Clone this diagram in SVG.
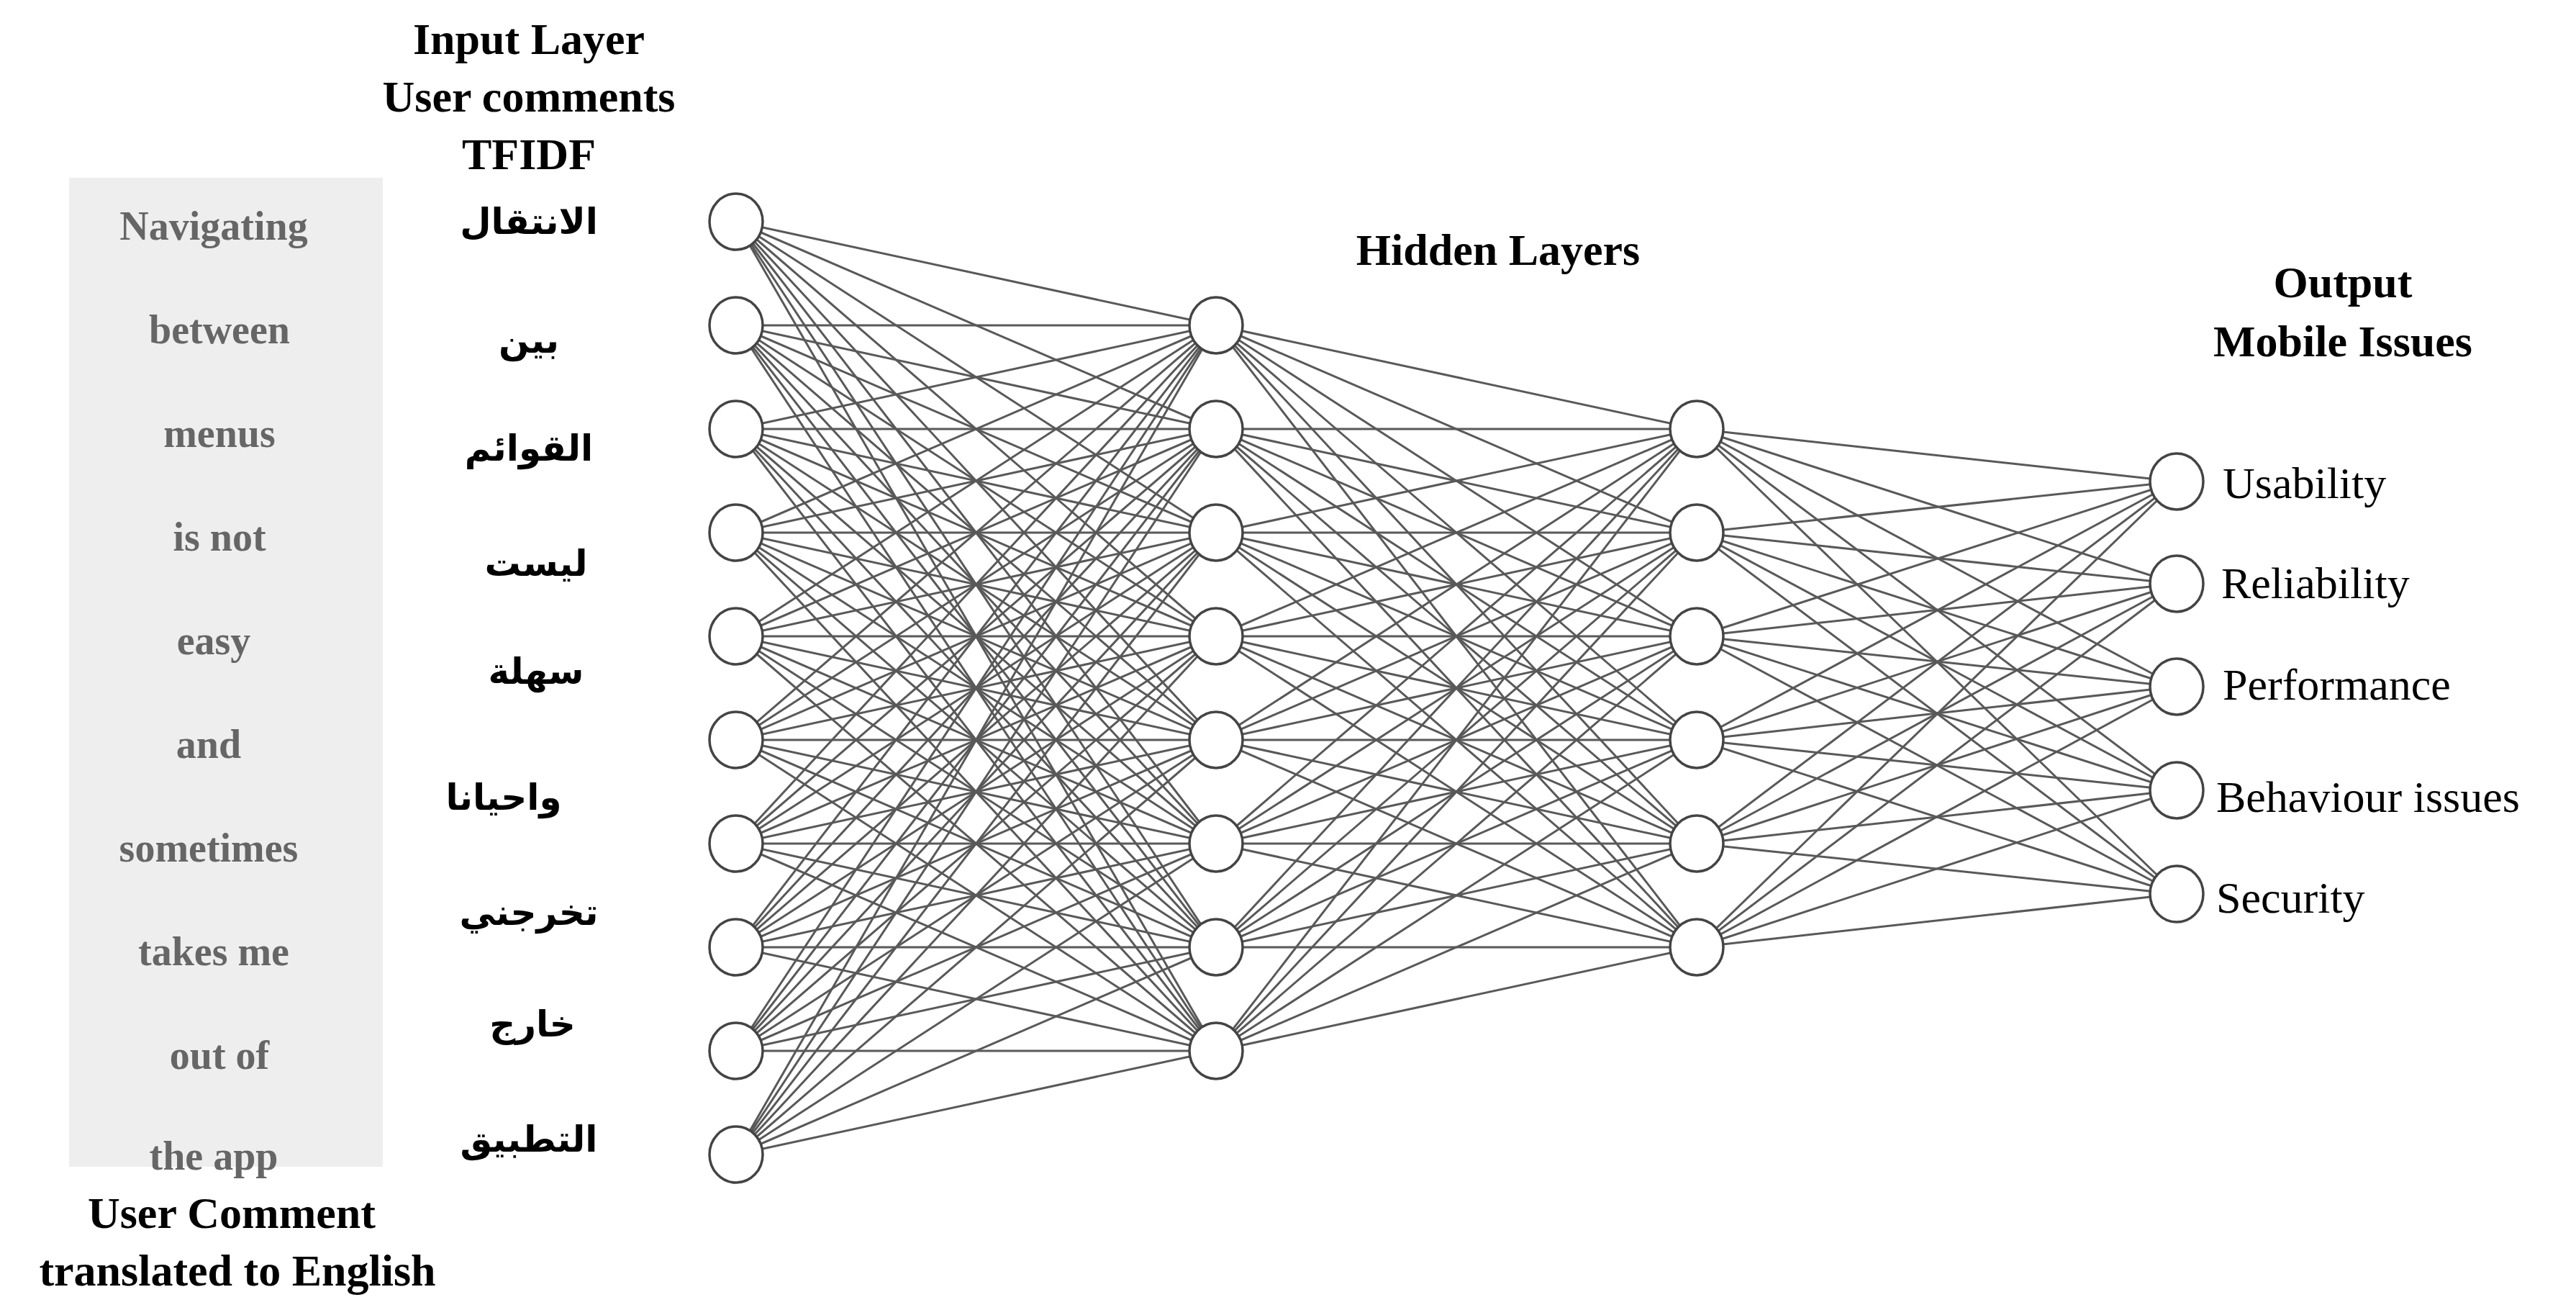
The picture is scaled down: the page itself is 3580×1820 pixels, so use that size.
<svg xmlns="http://www.w3.org/2000/svg" width="3580" height="1820" viewBox="0 0 3580 1820">
<style>
.t{font-family:"Liberation Serif","DejaVu Serif",serif;font-weight:bold;font-size:62px;fill:#000;text-anchor:middle}
.w{font-family:"Liberation Serif","DejaVu Serif",serif;font-weight:bold;font-size:56px;fill:#666;text-anchor:middle}
.a{font-family:"DejaVu Sans","Noto Sans",sans-serif;font-weight:bold;font-size:50px;fill:#000;text-anchor:middle}
.o{font-family:"Liberation Serif","DejaVu Serif",serif;font-size:62px;fill:#000}
.c polyline{fill:none;stroke:#595959;stroke-width:3;stroke-linejoin:round}
.n ellipse{fill:#fff;stroke:#444;stroke-width:3.5}
</style>
<rect x="96" y="247" width="436" height="1374" fill="#eeeeee"/>
<g id="comment">
<text class="w" x="297" y="333">Navigating</text>
<text class="w" x="305" y="477">between</text>
<text class="w" x="305" y="621">menus</text>
<text class="w" x="305" y="765">is not</text>
<text class="w" x="297" y="909">easy</text>
<text class="w" x="290" y="1053">and</text>
<text class="w" x="290" y="1197">sometimes</text>
<text class="w" x="297" y="1341">takes me</text>
<text class="w" x="305" y="1485">out of</text>
<text class="w" x="297" y="1625">the app</text>
<text class="t" x="322" y="1706">User Comment</text>
<text class="t" x="330" y="1786">translated to English</text>
</g>
<g id="titles">
<text class="t" x="735" y="75">Input Layer</text>
<text class="t" x="735" y="155">User comments</text>
<text class="t" x="735" y="235">TFIDF</text>
<text class="t" x="2082" y="368">Hidden Layers</text>
<text class="t" x="3256" y="413">Output</text>
<text class="t" x="3256" y="495">Mobile Issues</text>
</g>
<g id="arabic">
<text class="a" x="735" y="325">الانتقال</text>
<text class="a" x="735" y="490">بين</text>
<text class="a" x="735" y="640">القوائم</text>
<text class="a" x="745" y="800">ليست</text>
<text class="a" x="745" y="950">سهلة</text>
<text class="a" x="700" y="1125">واحيانا</text>
<text class="a" x="735" y="1285">تخرجني</text>
<text class="a" x="740" y="1440">خارج</text>
<text class="a" x="735" y="1600">التطبيق</text>
</g>
<g id="connectors" class="c">
<polyline points="1023,308 1690,452 1023,308 1690,596 1023,308 1690,740 1023,308 1690,884 1023,308 1690,1028 1023,308 1690,1172 1023,308 1690,1316 1023,308 1690,1460"/>
<polyline points="1023,452 1690,452 1023,452 1690,596 1023,452 1690,740 1023,452 1690,884 1023,452 1690,1028 1023,452 1690,1172 1023,452 1690,1316 1023,452 1690,1460"/>
<polyline points="1023,596 1690,452 1023,596 1690,596 1023,596 1690,740 1023,596 1690,884 1023,596 1690,1028 1023,596 1690,1172 1023,596 1690,1316 1023,596 1690,1460"/>
<polyline points="1023,740 1690,452 1023,740 1690,596 1023,740 1690,740 1023,740 1690,884 1023,740 1690,1028 1023,740 1690,1172 1023,740 1690,1316 1023,740 1690,1460"/>
<polyline points="1023,884 1690,452 1023,884 1690,596 1023,884 1690,740 1023,884 1690,884 1023,884 1690,1028 1023,884 1690,1172 1023,884 1690,1316 1023,884 1690,1460"/>
<polyline points="1023,1028 1690,452 1023,1028 1690,596 1023,1028 1690,740 1023,1028 1690,884 1023,1028 1690,1028 1023,1028 1690,1172 1023,1028 1690,1316 1023,1028 1690,1460"/>
<polyline points="1023,1172 1690,452 1023,1172 1690,596 1023,1172 1690,740 1023,1172 1690,884 1023,1172 1690,1028 1023,1172 1690,1172 1023,1172 1690,1316 1023,1172 1690,1460"/>
<polyline points="1023,1316 1690,452 1023,1316 1690,596 1023,1316 1690,740 1023,1316 1690,884 1023,1316 1690,1028 1023,1316 1690,1172 1023,1316 1690,1316 1023,1316 1690,1460"/>
<polyline points="1023,1460 1690,452 1023,1460 1690,596 1023,1460 1690,740 1023,1460 1690,884 1023,1460 1690,1028 1023,1460 1690,1172 1023,1460 1690,1316 1023,1460 1690,1460"/>
<polyline points="1023,1604 1690,452 1023,1604 1690,596 1023,1604 1690,740 1023,1604 1690,884 1023,1604 1690,1028 1023,1604 1690,1172 1023,1604 1690,1316 1023,1604 1690,1460"/>
<polyline points="1690,452 2358,596 1690,452 2358,740 1690,452 2358,884 1690,452 2358,1028 1690,452 2358,1172 1690,452 2358,1316"/>
<polyline points="1690,596 2358,596 1690,596 2358,740 1690,596 2358,884 1690,596 2358,1028 1690,596 2358,1172 1690,596 2358,1316"/>
<polyline points="1690,740 2358,596 1690,740 2358,740 1690,740 2358,884 1690,740 2358,1028 1690,740 2358,1172 1690,740 2358,1316"/>
<polyline points="1690,884 2358,596 1690,884 2358,740 1690,884 2358,884 1690,884 2358,1028 1690,884 2358,1172 1690,884 2358,1316"/>
<polyline points="1690,1028 2358,596 1690,1028 2358,740 1690,1028 2358,884 1690,1028 2358,1028 1690,1028 2358,1172 1690,1028 2358,1316"/>
<polyline points="1690,1172 2358,596 1690,1172 2358,740 1690,1172 2358,884 1690,1172 2358,1028 1690,1172 2358,1172 1690,1172 2358,1316"/>
<polyline points="1690,1316 2358,596 1690,1316 2358,740 1690,1316 2358,884 1690,1316 2358,1028 1690,1316 2358,1172 1690,1316 2358,1316"/>
<polyline points="1690,1460 2358,596 1690,1460 2358,740 1690,1460 2358,884 1690,1460 2358,1028 1690,1460 2358,1172 1690,1460 2358,1316"/>
<polyline points="2358,596 3025,669 2358,596 3025,811 2358,596 3025,954 2358,596 3025,1098 2358,596 3025,1242"/>
<polyline points="2358,740 3025,669 2358,740 3025,811 2358,740 3025,954 2358,740 3025,1098 2358,740 3025,1242"/>
<polyline points="2358,884 3025,669 2358,884 3025,811 2358,884 3025,954 2358,884 3025,1098 2358,884 3025,1242"/>
<polyline points="2358,1028 3025,669 2358,1028 3025,811 2358,1028 3025,954 2358,1028 3025,1098 2358,1028 3025,1242"/>
<polyline points="2358,1172 3025,669 2358,1172 3025,811 2358,1172 3025,954 2358,1172 3025,1098 2358,1172 3025,1242"/>
<polyline points="2358,1316 3025,669 2358,1316 3025,811 2358,1316 3025,954 2358,1316 3025,1098 2358,1316 3025,1242"/>
</g>
<g id="input-nodes" class="n">
<ellipse cx="1023" cy="308" rx="37" ry="39"/><ellipse cx="1023" cy="452" rx="37" ry="39"/><ellipse cx="1023" cy="596" rx="37" ry="39"/><ellipse cx="1023" cy="740" rx="37" ry="39"/><ellipse cx="1023" cy="884" rx="37" ry="39"/><ellipse cx="1023" cy="1028" rx="37" ry="39"/><ellipse cx="1023" cy="1172" rx="37" ry="39"/><ellipse cx="1023" cy="1316" rx="37" ry="39"/><ellipse cx="1023" cy="1460" rx="37" ry="39"/><ellipse cx="1023" cy="1604" rx="37" ry="39"/>
</g>
<g id="hidden1-nodes" class="n">
<ellipse cx="1690" cy="452" rx="37" ry="39"/><ellipse cx="1690" cy="596" rx="37" ry="39"/><ellipse cx="1690" cy="740" rx="37" ry="39"/><ellipse cx="1690" cy="884" rx="37" ry="39"/><ellipse cx="1690" cy="1028" rx="37" ry="39"/><ellipse cx="1690" cy="1172" rx="37" ry="39"/><ellipse cx="1690" cy="1316" rx="37" ry="39"/><ellipse cx="1690" cy="1460" rx="37" ry="39"/>
</g>
<g id="hidden2-nodes" class="n">
<ellipse cx="2358" cy="596" rx="37" ry="39"/><ellipse cx="2358" cy="740" rx="37" ry="39"/><ellipse cx="2358" cy="884" rx="37" ry="39"/><ellipse cx="2358" cy="1028" rx="37" ry="39"/><ellipse cx="2358" cy="1172" rx="37" ry="39"/><ellipse cx="2358" cy="1316" rx="37" ry="39"/>
</g>
<g id="output-nodes" class="n">
<ellipse cx="3025" cy="669" rx="37" ry="39"/><ellipse cx="3025" cy="811" rx="37" ry="39"/><ellipse cx="3025" cy="954" rx="37" ry="39"/><ellipse cx="3025" cy="1098" rx="37" ry="39"/><ellipse cx="3025" cy="1242" rx="37" ry="39"/>
</g>
<g id="output-labels">
<text class="o" x="3089" y="692">Usability</text>
<text class="o" x="3087" y="831">Reliability</text>
<text class="o" x="3089" y="972">Performance</text>
<text class="o" x="3080" y="1128">Behaviour issues</text>
<text class="o" x="3080" y="1268">Security</text>
</g>
</svg>
